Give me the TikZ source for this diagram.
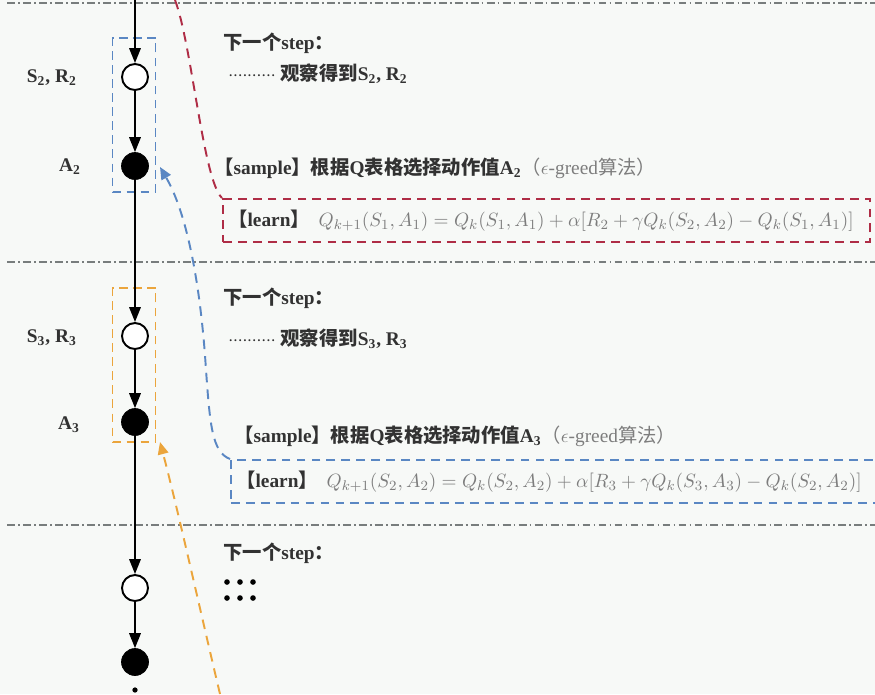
\documentclass[tikz,border=0pt]{standalone}
\usepackage{fontspec}
\setmainfont{Liberation Serif}
\newfontfamily\cjk{Noto Sans CJK SC}
\usetikzlibrary{arrows.meta}
\definecolor{bgc}{RGB}{247,249,247}
\definecolor{txt}{RGB}{50,50,50}
\definecolor{frm}{RGB}{125,125,125}
\definecolor{redd}{RGB}{175,45,70}
\definecolor{blued}{RGB}{90,135,195}
\definecolor{orad}{RGB}{235,165,60}
\definecolor{sepc}{RGB}{120,125,125}
\newcommand{\zh}[1]{{\cjk #1}}
\newcommand{\leaderdots}{\hbox to 27pt{\leaders\hbox to 2.7pt{\hss$\cdot$\hss}\hfil}}
\begin{document}
\begin{tikzpicture}[x=0.02cm, y=-0.02cm,
  every node/.style={font=\fontsize{11}{13}\selectfont\bfseries, text=txt},
  lbl/.style={anchor=west, inner sep=0pt},
  side/.style={anchor=east, inner sep=0pt},
  st/.style={circle, draw, line width=1.1pt, minimum size=0.52cm, inner sep=0pt, fill=white},
  ac/.style={circle, draw, fill=black, minimum size=0.54cm, inner sep=0pt},
  flow/.style={line width=1.1pt, -{Triangle[length=8.5pt,width=6.5pt]}},
  sep/.style={sepc, line width=0.8pt, dash pattern=on 4.5pt off 1.8pt on 1pt off 1.8pt},
  grp/.style={draw, line width=0.85pt, dash pattern=on 5pt off 3pt, minimum width=0.86cm, minimum height=3.08cm, inner sep=0pt},
  lrnbox/.style={draw, line width=1.1pt, dash pattern=on 5pt off 3.5pt, anchor=north west, minimum height=0.86cm, inner xsep=3pt, align=left},
  link/.style={line width=1.1pt, dash pattern=on 5.5pt off 4pt},
  back/.style={link, -{Triangle[length=7pt,width=6pt]}}
]
\useasboundingbox (0,0) rectangle (875,694);
\fill[bgc] (0,0) rectangle (875,694);

\draw[sep] (7,3) -- (875,3);
\draw[sep] (7,262) -- (875,262);
\draw[sep] (7,525) -- (875,525);

\coordinate (top) at (135,0);
\node[st] (s2) at (135,77) {};
\node[ac] (a2) at (135,166) {};
\node[st] (s3) at (135,336) {};
\node[ac] (a3) at (135,422) {};
\node[st] (s4) at (135,588) {};
\node[ac] (a4) at (135,662) {};
\node[circle, fill=black, inner sep=0pt, minimum size=3pt] (end) at (135,690) {};

\node[side] (ls2) at (77,78) {S\textsubscript{2}, R\textsubscript{2}};
\node[side] (la2) at (81,167) {A\textsubscript{2}};
\node[side] (ls3) at (77,338) {S\textsubscript{3}, R\textsubscript{3}};
\node[side] (la3) at (80,425) {A\textsubscript{3}};

\node[grp, blued] (g2) at (134,115) {};
\node[grp, orad] (g3) at (134,365) {};

\node[lbl] (step2) at (223,43) {\zh{下一个}step\zh{：}};
\node[lbl] (obs2) at (228,74) {\leaderdots\ \zh{观察得到}S\textsubscript{2}, R\textsubscript{2}};
\node[lbl] (smp2) at (214,168) {\zh{【}sample\zh{】根据}Q\zh{表格选择动作值}A\textsubscript{2}\textcolor{frm}{\mdseries\zh{（}$\epsilon$-greed\zh{算法）}}};
\node[lrnbox, redd, text width=12.74cm] (lrn2) at (222,198) {\textcolor{txt}{\zh{【}learn\zh{】}}\hspace{5pt}\textcolor{frm}{$Q_{k+1}(S_1,A_1)=Q_k(S_1,A_1)+\alpha[R_2+\gamma Q_k(S_2,A_2)-Q_k(S_1,A_1)]$}};

\node[lbl] (step3) at (223,298) {\zh{下一个}step\zh{：}};
\node[lbl] (obs3) at (228,339) {\leaderdots\ \zh{观察得到}S\textsubscript{3}, R\textsubscript{3}};
\node[lbl] (smp3) at (234,436) {\zh{【}sample\zh{】根据}Q\zh{表格选择动作值}A\textsubscript{3}\textcolor{frm}{\mdseries\zh{（}$\epsilon$-greed\zh{算法）}}};
\node[lrnbox, blued, text width=12.8cm] (lrn3) at (230,459) {\textcolor{txt}{\zh{【}learn\zh{】}}\hspace{5pt}\textcolor{frm}{$Q_{k+1}(S_2,A_2)=Q_k(S_2,A_2)+\alpha[R_3+\gamma Q_k(S_3,A_3)-Q_k(S_2,A_2)]$}};

\node[lbl] (step4) at (223,553) {\zh{下一个}step\zh{：}};
\foreach \i in {0,1,2} {
  \fill[black] (227+13*\i,582) circle (1.6pt);
  \fill[black] (227+13*\i,598) circle (1.6pt);
}

\coordinate (rtop) at (175,0);
\coordinate (tipb) at (160,167);
\coordinate (tipo) at (160,442);
\coordinate (obot) at (220,694);

\draw[flow] (top) -- (s2);
\draw[flow] (s2) -- (a2);
\draw[flow] (a2) -- (s3);
\draw[flow] (s3) -- (a3);
\draw[flow] (a3) -- (s4);
\draw[flow] (s4) -- (a4);

\draw[link, redd] (rtop) .. controls (192,45) and (203,180) .. (lrn2.north west);
\draw[back, blued] (lrn3.north west) .. controls (212,452) and (210,425) .. (206,370) .. controls (201,290) and (188,215) .. (tipb);
\draw[back, orad] (obot) .. controls (200,610) and (178,510) .. (tipo);
\end{tikzpicture}
\end{document}
